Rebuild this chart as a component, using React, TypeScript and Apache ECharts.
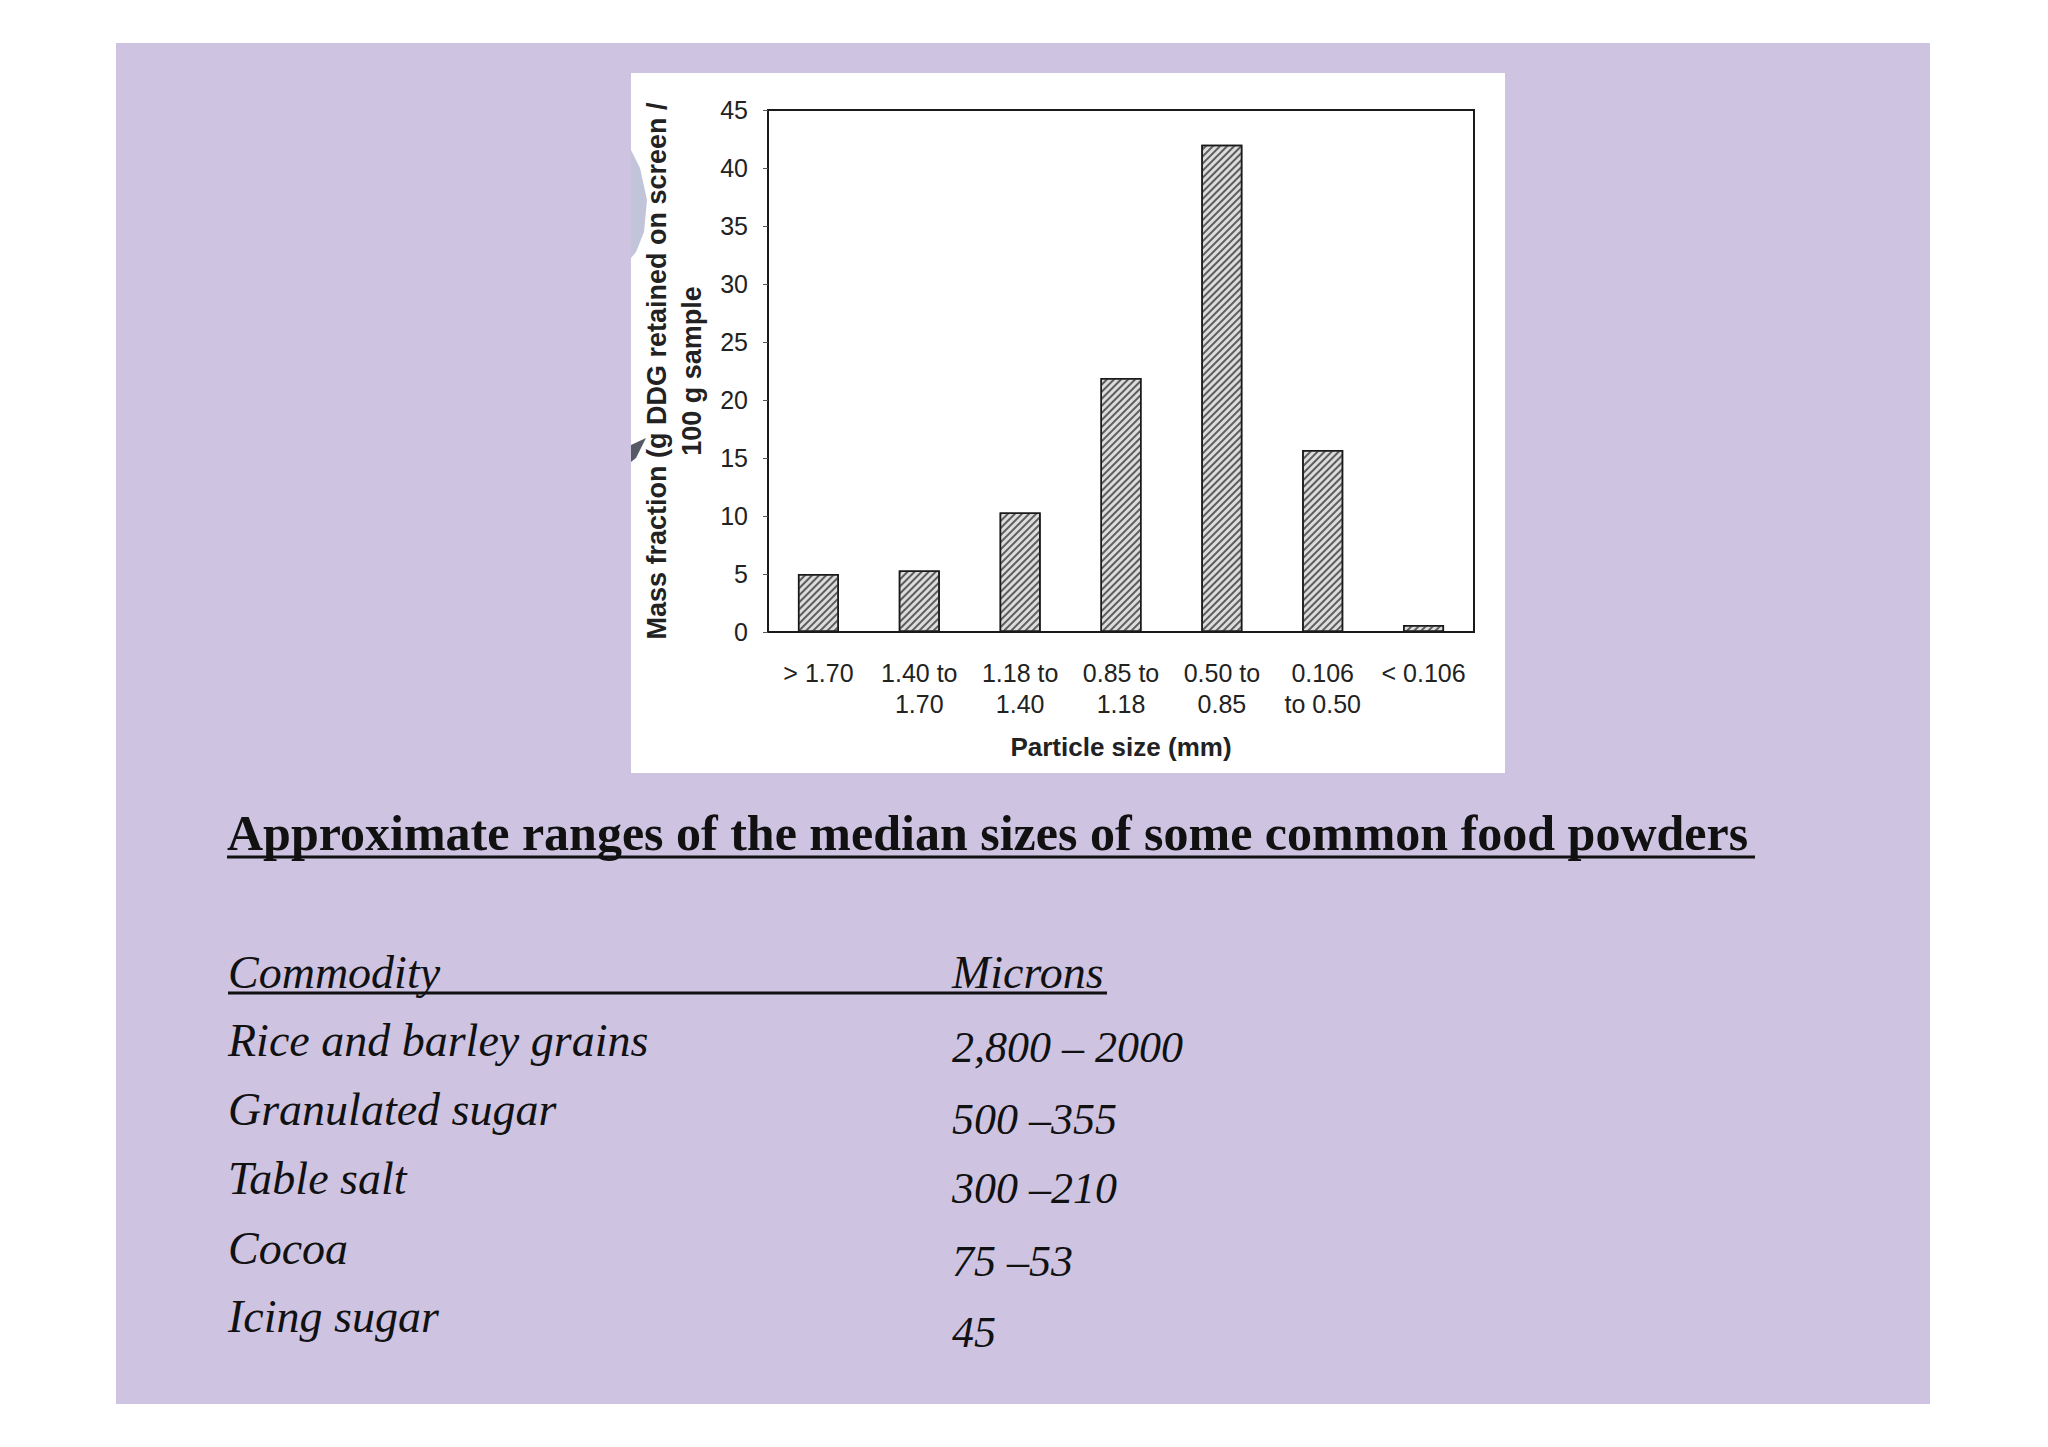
import React, { useEffect, useRef } from "react";
import * as echarts from "echarts";

const categories = [
  "> 1.70",
  "1.40 to\n1.70",
  "1.18 to\n1.40",
  "0.85 to\n1.18",
  "0.50 to\n0.85",
  "0.106\nto 0.50",
  "< 0.106",
];
const massFraction = [5.0, 5.3, 10.3, 21.9, 42.0, 15.7, 0.6];
const yTickValues = [0, 5, 10, 15, 20, 25, 30, 35, 40, 45];
const yAxisTitleLines = ["Mass fraction (g DDG retained on screen /", "100 g sample"];
const xAxisTitle = "Particle size (mm)";
const tableTitle = "Approximate ranges of the median sizes of some common food powders";
const tableHeaders = ["Commodity", "Microns"];
const commodities = ["Rice and barley grains", "Granulated sugar", "Table salt", "Cocoa", "Icing sugar"];
const micronRanges = ["2,800 – 2000", "500 –355", "300 –210", "75 –53", "45"];

const SERIF = "'Liberation Serif', 'Times New Roman', serif";
const SANS = "'Liberation Sans', Arial, sans-serif";

// place text by its baseline (top-aligned text shifted up by ~0.88 em)
function txt(text: string, x: number, baseline: number, size: number, fontPrefix: string) {
  return {
    type: "text",
    x,
    y: baseline - size * 0.88,
    z: 5,
    style: {
      text,
      font: `${fontPrefix} ${size}px ${SERIF}`,
      fill: "#111",
      align: "left",
      textAlign: "left",
      verticalAlign: "top",
      textVerticalAlign: "top",
    },
  };
}

export default function App() {
  const ref = useRef<HTMLDivElement>(null);
  useEffect(() => {
    if (!ref.current) return;
    const chart = echarts.init(ref.current, undefined, { renderer: "svg" });
    const rowBaselines = [1058, 1127, 1196, 1266, 1334];
    const numberBaselines = [1064, 1136, 1205, 1278, 1349];
    const graphics: any[] = [
      {
        type: "rect",
        z: -10,
        shape: { x: 116, y: 43, width: 1814, height: 1361 },
        style: { fill: "#cec4e2" },
      },
      {
        type: "rect",
        z: -9,
        shape: { x: 631, y: 73, width: 874, height: 700 },
        style: { fill: "#ffffff" },
      },
      {
        type: "polygon",
        z: -8,
        shape: { points: [[631, 150], [640, 168], [647, 200], [644, 232], [636, 252], [631, 258]] },
        style: { fill: "#c2c5da" },
      },
      {
        type: "polygon",
        z: -8,
        shape: { points: [[631, 445], [646, 438], [636, 458], [631, 462]] },
        style: { fill: "#555a66" },
      },
      {
        type: "text",
        x: 674,
        y: 371,
        z: 5,
        rotation: Math.PI / 2,
        style: {
          text: yAxisTitleLines.join("\n"),
          font: `bold 27px ${SANS}`,
          fill: "#222",
          align: "center",
          textAlign: "center",
          verticalAlign: "middle",
          textVerticalAlign: "middle",
          lineHeight: 35,
        },
      },
      txt(tableTitle, 227, 852, 50, "bold"),
      {
        type: "line",
        z: 5,
        shape: { x1: 227, y1: 857, x2: 1755, y2: 857 },
        style: { stroke: "#111", lineWidth: 3 },
      },
      txt(tableHeaders[0], 228, 990, 46, "italic"),
      txt(tableHeaders[1], 952, 990, 46, "italic"),
      {
        type: "line",
        z: 5,
        shape: { x1: 228, y1: 993, x2: 1107, y2: 993 },
        style: { stroke: "#111", lineWidth: 3 },
      },
    ];
    commodities.forEach((c, i) => {
      graphics.push(txt(c, 228, rowBaselines[i], 46, "italic"));
      graphics.push(txt(micronRanges[i], 952, numberBaselines[i], 44, "italic"));
    });

    chart.setOption({
      animation: false,
      aria: { enabled: true, decal: { show: true } },
      backgroundColor: "#ffffff",
      grid: {
        left: 768,
        top: 110,
        width: 706,
        height: 522,
        show: true,
        borderColor: "#1a1a1a",
        borderWidth: 2,
        backgroundColor: "#ffffff",
        outerBoundsMode: "none",
        containLabel: false,
      },
      xAxis: {
        type: "category",
        data: categories,
        name: xAxisTitle,
        nameLocation: "middle",
        nameGap: 102,
        nameTextStyle: { fontFamily: SANS, fontWeight: "bold", fontSize: 26, color: "#222" },
        axisLine: { lineStyle: { color: "#1a1a1a", width: 2 } },
        axisTick: { show: false },
        axisLabel: {
          fontFamily: SANS,
          fontSize: 25,
          color: "#222",
          lineHeight: 31,
          margin: 25,
          interval: 0,
        },
      },
      yAxis: {
        type: "value",
        min: yTickValues[0],
        max: yTickValues[yTickValues.length - 1],
        interval: yTickValues[1] - yTickValues[0],
        axisLine: { show: true, lineStyle: { color: "#1a1a1a", width: 2 } },
        axisTick: { show: true, length: 5, lineStyle: { color: "#555", width: 1 } },
        splitLine: { show: false },
        axisLabel: { fontFamily: SANS, fontSize: 25, color: "#222", margin: 20 },
      },
      series: [
        {
          type: "bar",
          data: massFraction,
          barWidth: 41,
          itemStyle: {
            color: "#dcdcdc",
            borderColor: "#1a1a1a",
            borderWidth: 1.5,
            decal: {
              symbol: "rect",
              symbolSize: 1,
              color: "rgba(70,70,70,0.85)",
              dashArrayX: [1, 0],
              dashArrayY: [1.4, 2.8],
              rotation: -Math.PI / 4,
            },
          },
        },
      ],
      graphic: { elements: graphics },
    });
    return () => chart.dispose();
  }, []);
  return (
    <div
      ref={ref}
      style={{ position: "absolute", left: 0, top: 0, width: 2048, height: 1447 }}
    />
  );
}
